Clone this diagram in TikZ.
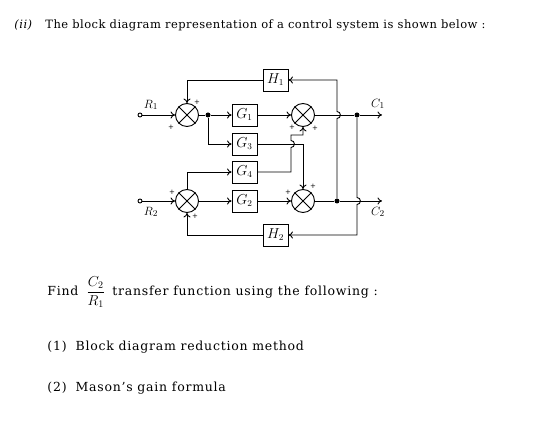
\documentclass[tikz,border=0pt]{standalone}
\usepackage{amsmath}
\usepackage{fontspec}
\setmainfont{DejaVu Serif}
\usetikzlibrary{arrows.meta,positioning,calc}
\tikzset{
    blk/.style={draw, minimum width=25pt, minimum height=22pt, inner sep=0pt, font=\fontsize{13.5}{15}\selectfont},
    sumj/.style={draw, circle, minimum size=23pt, inner sep=0pt},
    sig/.style={-{To[length=4.5pt, width=7pt]}},
    term/.style={draw, circle, minimum size=4pt, inner sep=0pt, fill=white},
    dot/.style={fill, circle, minimum size=5pt, inner sep=0pt},
    lbl/.style={inner sep=0pt, font=\fontsize{13}{15}\selectfont},
    pm/.style={font=\scriptsize, inner sep=0pt},
    txt/.style={anchor=base west, inner sep=0pt, font=\fontsize{11.5}{13}\selectfont\addfontfeature{LetterSpace=4}},
    task/.style={anchor=base west, inner sep=0pt, font=\fontsize{12.5}{14}\selectfont\addfontfeature{LetterSpace=6}}
}

\begin{document}
\begin{tikzpicture}[x=1pt, y=-1pt, line width=0.9pt]
\useasboundingbox (0,0) rectangle (558,438);
% question text
\node[txt] (num) at (14,29) {\itshape (ii)};
\node[txt] (head) at (45,29) {The block diagram representation of a control system is shown below :};

% summing points
\node[sumj] (s1) at (187,115) {};
\node[sumj] (s3) at (303,115) {};
\node[sumj] (s2) at (187,201) {};
\node[sumj] (s4) at (303,201) {};
\foreach \s in {s1,s2,s3,s4}
    \draw (\s.45) -- (\s.225) (\s.135) -- (\s.315);

% blocks
\node[blk] (g1) at (244.5,115) {$G_1$};
\node[blk] (g3) at (244.5,144) {$G_3$};
\node[blk] (g4) at (244.5,172) {$G_4$};
\node[blk] (g2) at (244.5,201) {$G_2$};
\node[blk] (h1) at (275.5,80) {$H_1$};
\node[blk] (h2) at (275.5,235) {$H_2$};

% inputs, outputs, take-off points
\node[term] (r1) at (140,115) {};
\node[term] (r2) at (140,201) {};
\node[lbl] (lr1) at (151,105) {$R_1$};
\node[lbl] (lr2) at (151,212) {$R_2$};
\coordinate (c1) at (382,115);
\coordinate (c2) at (382,201);
\node[lbl] (lc1) at (378,104) {$C_1$};
\node[lbl] (lc2) at (378,212) {$C_2$};
\node[dot] (d1) at (208,115) {};
\node[dot] (d2) at (357,115) {};
\node[dot] (d3) at (337,201) {};

% hop points
\coordinate (k1) at (291,172);
\coordinate (k2) at (291,135);

% forward paths
\draw[sig] (r1) -- (s1);
\draw (s1) -- (d1);
\draw[sig] (d1) -- (g1);
\draw[sig] (d1) |- (g3);
\draw[sig] (r2) -- (s2);
\draw[sig] (s2) -- (g2);
\draw[sig] (s2) |- (g4);
\draw[sig] (g1) -- (s3);
\draw[sig] (g2) -- (s4);
\draw[sig] (g3) -| (s4);
\draw[sig] (g4) -- (k1) -- (291,147.5) .. controls (295.5,147.5) and (295.5,140.5) .. (291,140.5) -- (k2) -| (s3);
\draw (s3) -- (d2);
\draw[sig] (d2) -- (c1);
\draw (s4) -- (d3);
\draw[sig] (d3) -- (c2);

% feedback paths
\draw[sig] (d3) -- (337,118.5) .. controls (341.5,118.5) and (341.5,111.5) .. (337,111.5) |- (h1);
\draw[sig] (h1) -| (s1);
\draw[sig] (d2) -- (357,197.5) .. controls (361.5,197.5) and (361.5,204.5) .. (357,204.5) |- (h2);
\draw[sig] (h2) -| (s2);

% signs
\node[pm] (p1) at (197,102) {+};
\node[pm] (p2) at (171,127) {+};
\node[pm] (p3) at (292,127) {+};
\node[pm] (p4) at (315,128) {+};
\node[pm] (p5) at (172,192) {+};
\node[pm] (p6) at (195,216) {+};
\node[pm] (p7) at (288,192) {+};
\node[pm] (p8) at (313,186) {+};

% task
\node[task] (find) at (47,296) {Find};
\node[inner sep=0pt, anchor=west, font=\fontsize{14}{16}\selectfont] (frac) at (86,292) {$\dfrac{C_2}{R_1}$};
\node[task] (rest) at (112,296) {transfer function using the following :};
\node[task] (item1) at (47,351) {(1)\hspace{9pt}Block diagram reduction method};
\node[task] (item2) at (47,392) {(2)\hspace{9pt}Mason’s gain formula};
\end{tikzpicture}
\end{document}
